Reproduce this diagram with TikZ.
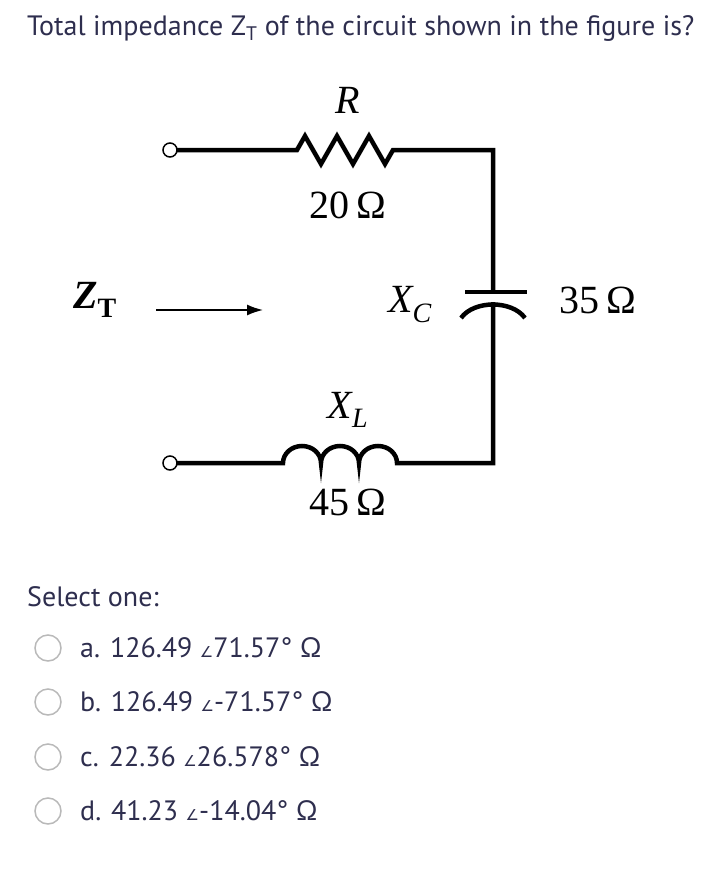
\documentclass[tikz,border=0pt]{standalone}
\usepackage{fontspec}
\usetikzlibrary{arrows.meta}
\setmainfont{PT Sans}
\newfontfamily\circfont{Liberation Serif}
\newfontfamily\symfont{DejaVu Sans}
\definecolor{ink}{HTML}{2E2E4E}
\begin{document}
\begin{tikzpicture}[x=1pt,y=-1pt,
  wire/.style={line width=4.5pt},
  term/.style={circle,draw,line width=1.5pt,minimum size=14pt,inner sep=0pt,fill=white},
  clab/.style={font=\circfont\fontsize{40}{40}\selectfont},
  txt/.style={font=\fontsize{28}{30}\selectfont,text=ink,anchor=west,inner sep=0pt},
  radio/.style={circle,draw=gray!55,line width=1.5pt,minimum size=26pt,inner sep=0pt}]
\useasboundingbox (0,0) rectangle (718,878);
\node[txt] (title) at (27,28) {Total impedance Z\textsubscript{T} of the circuit shown in the figure is?};
% circuit
\coordinate (r1) at (297,150);
\coordinate (r2) at (397,150);
\coordinate (tr) at (493,150);
\coordinate (br) at (493,463);
\coordinate (c1) at (493,292);
\coordinate (c2) at (493,302);
\coordinate (l2) at (397,463);
\draw[wire] (170,150) -- (r1) -- ++(8,-14) -- ++(16,28) -- ++(16,-28) -- ++(16,28) -- ++(16,-28) -- ++(16,28) -- ++(8,-14) -- (r2) -- (tr) -- (c1);
\draw[wire] (465,292) -- (527,292);
\draw[wire] (461,318) .. controls (474,300) and (512,300) .. (525,318);
\draw[wire] (c2) -- (br) -- (l2) arc (0:-180:19 and 17) arc (0:-180:19 and 17) arc (0:-180:19 and 17) -- (170,463);
\node[term] (t1) at (170,150) {};
\node[term] (t2) at (170,463) {};
\node[clab] (R) at (348,100) {\itshape R};
\node[clab] (rv) at (348,205) {20\,Ω};
\node[clab] (xc) at (410,305) {\itshape X\textsubscript{\itshape C}};
\node[clab] (cv) at (598,300) {35\,Ω};
\node[clab] (xl) at (348,410) {\itshape X\textsubscript{\itshape L}};
\node[clab] (lv) at (348,502) {45\,Ω};
\node[clab] (zt) at (95,300) {\bfseries\itshape Z\textsubscript{\upshape T}};
\coordinate (a1) at (156,310);
\coordinate (a2) at (263,310);
\draw[line width=1.6pt,-{Latex[length=16pt,width=11pt]}] (a1) -- (a2);
% options
\node[txt] (sel) at (27,597) {Select one:};
\foreach \y/\t [count=\i] in {648/{a. 126.49 {\symfont\fontsize{15}{15}\selectfont ∠}71.57° Ω},
  702/{b. 126.49 {\symfont\fontsize{15}{15}\selectfont ∠}-71.57° Ω},
  757/{c. 22.36 {\symfont\fontsize{15}{15}\selectfont ∠}26.578° Ω},
  811/{d. 41.23 {\symfont\fontsize{15}{15}\selectfont ∠}-14.04° Ω}}{
  \node[radio] (rb\i) at (48,\y) {};
  \node[txt] (opt\i) at (80,\y) {\t};
}
\end{tikzpicture}
\end{document}
